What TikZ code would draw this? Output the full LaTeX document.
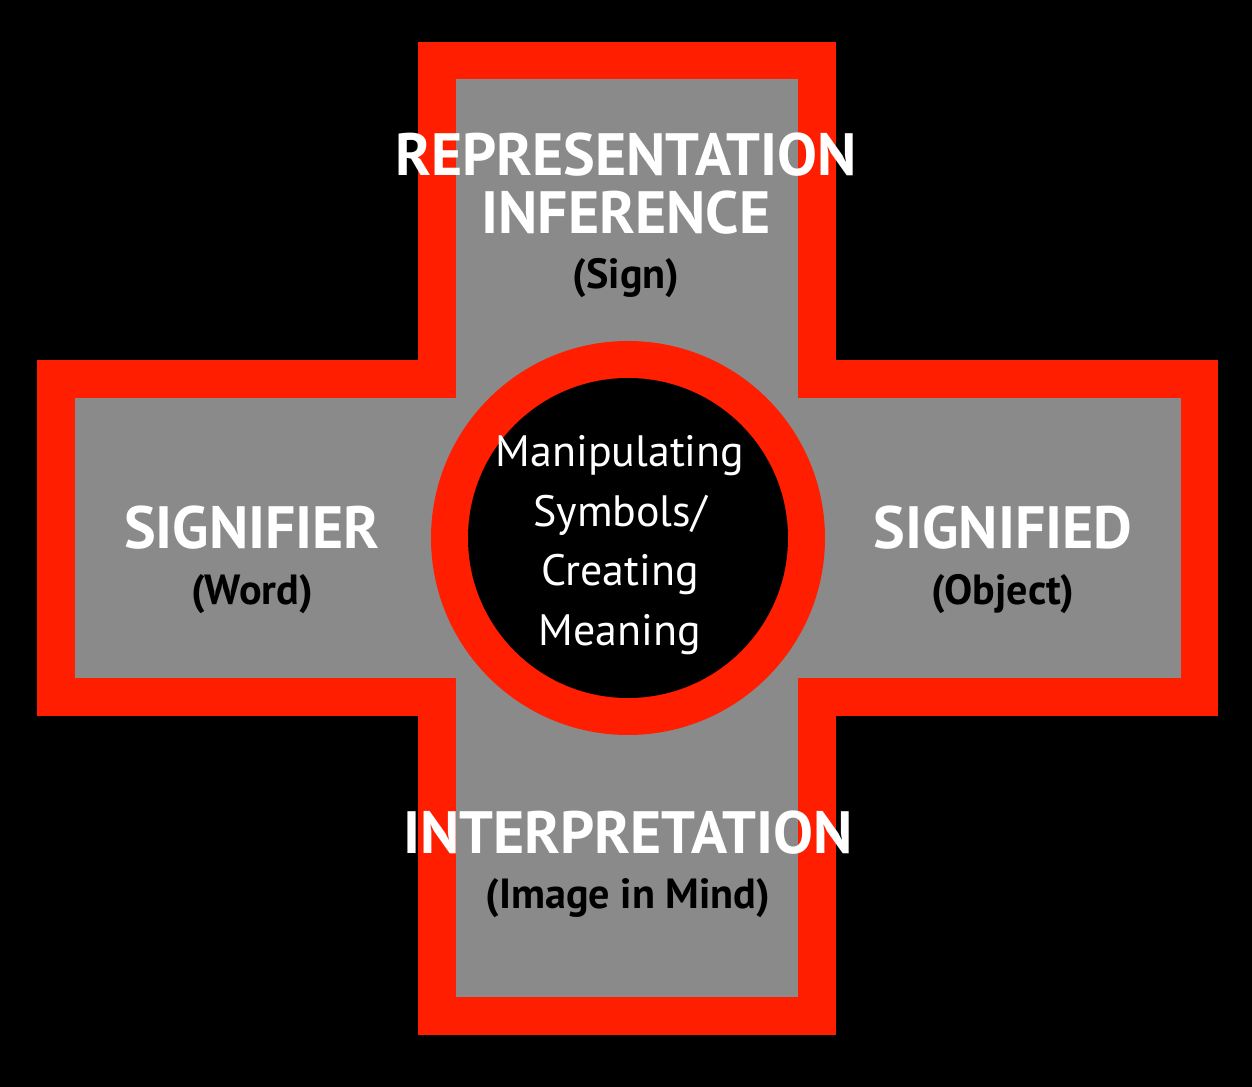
\documentclass[tikz,border=0pt]{standalone}
\usepackage{fontspec}
\setmainfont{PT Sans}
\definecolor{cred}{HTML}{FF1E00}
\definecolor{cgray}{HTML}{8A8A8A}
\begin{document}
\begin{tikzpicture}[x=0.02cm,y=-0.02cm,
  big/.style={font=\fontsize{34}{34}\selectfont\bfseries,text=white,align=center,inner sep=0},
  sub/.style={font=\fontsize{24}{24}\selectfont\bfseries,text=black,align=center,inner sep=0},
  mid/.style={font=\fontsize{25}{34}\selectfont,text=white,align=center,inner sep=0}]
\fill[black] (0,0) rectangle (1252,1087);
\useasboundingbox (0,0) rectangle (1252,1087);
\fill[cred] (418,42) rectangle (836,1035);
\fill[cred] (37,360) rectangle (1218,716);
\fill[cgray] (456,79) rectangle (798,997);
\fill[cgray] (75,398) rectangle (1181,678);
\fill[cred] (628,538) circle (197);
\fill[black] (628,538) circle (160);
\node[big] (rep) at (626,155) {REPRESENTATION};
\node[big] (inf) at (626,213) {INFERENCE};
\node[sub] (sign) at (626,278) {(Sign)};
\node[big] (sr) at (252,528) {SIGNIFIER};
\node[sub] (word) at (252,594) {(Word)};
\node[big] (sd) at (1003,528) {SIGNIFIED};
\node[sub] (obj) at (1003,594) {(Object)};
\node[big] (int) at (628,833) {INTERPRETATION};
\node[sub] (img) at (628,898) {(Image in Mind)};
\node[mid] (c) at (620,545) {Manipulating\\Symbols/\\Creating\\Meaning};
\end{tikzpicture}
\end{document}
